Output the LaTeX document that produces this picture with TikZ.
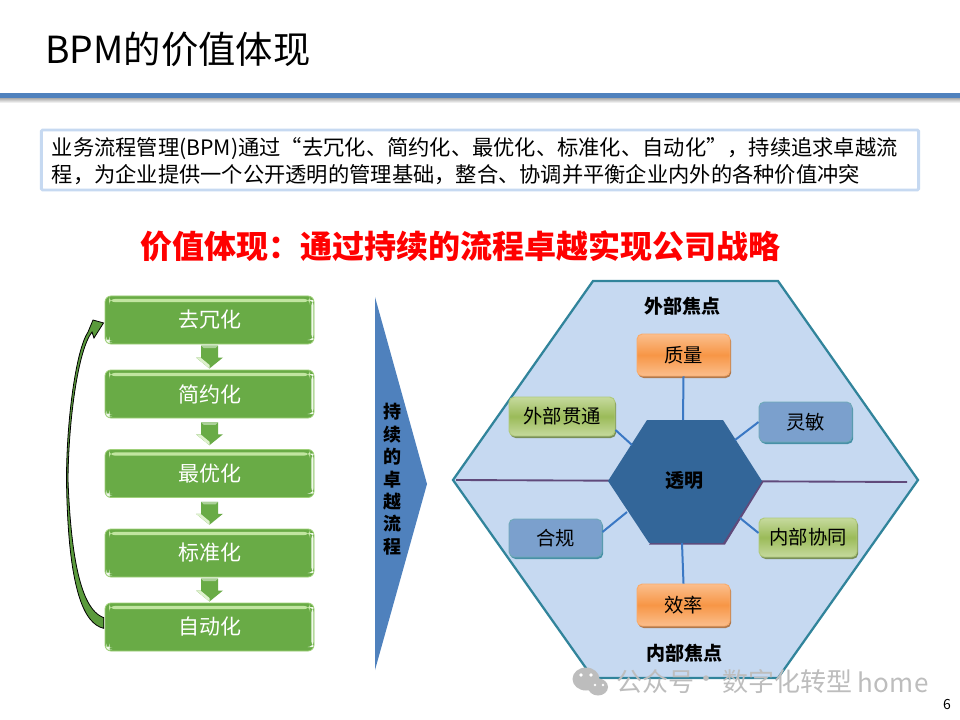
\documentclass[tikz,border=0pt]{standalone}
\usepackage{fontspec}
\setmainfont{Noto Sans CJK SC}
\newfontfamily\wmfont[LetterSpace=2]{Noto Sans CJK SC}
\usetikzlibrary{shadows,calc}
\definecolor{barblue}{HTML}{4F81BD}
\definecolor{paleblue}{HTML}{C6D9F1}
\definecolor{boxgreen}{HTML}{69AB46}
\definecolor{lightgreen}{HTML}{B6E08F}
\definecolor{tealedge}{HTML}{31849B}
\definecolor{hexblue}{HTML}{336699}
\definecolor{spoke}{HTML}{3A78C4}
\definecolor{plum}{HTML}{604A7B}
\definecolor{markgray}{HTML}{BDBDBD}
\definecolor{fillorange}{HTML}{F79646}
\definecolor{paleorange}{HTML}{FBBE8C}
\definecolor{gb}{HTML}{9BBB59}
\definecolor{palegb}{HTML}{C6DA9E}
\definecolor{bb}{HTML}{7BA0CD}
\definecolor{loopgreen}{HTML}{5A9A3C}
\tikzset{
  px/.style={x=0.75pt,y=-0.75pt},
  sz/.style={font=\fontsize{#1}{#1}\selectfont},
  gbox/.style={draw=lightgreen!70!boxgreen,line width=.6pt,fill=boxgreen,rounded corners=4.5pt,
    minimum width=156.75pt,minimum height=36pt,inner sep=0pt,text=white,sz=15.75,
    path picture={
      \fill[lightgreen!85!white] ([xshift=3pt,yshift=-2.2pt]path picture bounding box.north west) rectangle ([xshift=-3pt,yshift=-4.6pt]path picture bounding box.north east);
      \fill[white!80!lightgreen] ([xshift=-2pt,yshift=-3pt]path picture bounding box.north east) rectangle ([xshift=-.2pt,yshift=3pt]path picture bounding box.south east);
      \fill[white!80!lightgreen] ([xshift=1pt,yshift=1.2pt]path picture bounding box.south west) rectangle ([xshift=3.5pt,yshift=2.8pt]path picture bounding box.south west);
    }},
  cbox/.style={rounded corners=4pt,inner sep=0pt,sz=14.5,line width=.7pt,
    general shadow={shadow xshift=.9pt,shadow yshift=-1.5pt,fill=#1,opacity=.85}},
  obox/.style={cbox=fillorange!70!black,draw=fillorange!80!white,top color=paleorange,bottom color=paleorange,middle color=fillorange},
  lbox/.style={cbox=gb!70!black,draw=gb!80!white,top color=palegb,bottom color=palegb,middle color=gb},
  sbox/.style={cbox=tealedge,draw=tealedge!70!white,fill=bb},
  spokeline/.style={draw=spoke,line width=1.5pt},
  darr/.pic={
    \fill[boxgreen] (-8.5,-11.5) -- (8.5,-11.5) -- (8.5,.5) -- (13.5,.5) -- (0,11.5) -- (-13.5,.5) -- (-8.5,.5) -- cycle;
    \fill[boxgreen!55!white] (-8.5,-11.5) -- (8.5,-11.5) -- (6,-9) -- (-6,-9) -- cycle;
    \fill[lightgreen!45!white] (-13.5,.5) -- (-9,.5) -- (0,8) -- (0,11.5) -- cycle;
  }
}
\begin{document}
\begin{tikzpicture}[px]
\useasboundingbox (0,0) rectangle (960,720);
\fill[white] (0,0) rectangle (960,720);
% header
\shade[top color=black!40,bottom color=white] (0,97) rectangle (960,103);
\fill[barblue] (0,93) rectangle (960,98);
\node[anchor=west,inner sep=0pt,sz=28] (title) at (45,49) {BPM的价值体现};
% intro
\node[draw=paleblue,line width=2.2pt,rounded corners=1pt,minimum width=658pt,minimum height=45pt,inner sep=0pt] (intro) at (480,160) {};
\node[anchor=west,inner sep=0pt,sz=15.95] (introa) at (51.5,149) {业务流程管理(BPM)通过“去冗化、简约化、最优化、标准化、自动化”，持续追求卓越流};
\node[anchor=west,inner sep=0pt,sz=15.95] (introb) at (51.5,175) {程，为企业提供一个公开透明的管理基础，整合、协调并平衡企业内外的各种价值冲突};
\node[text=red,inner sep=0pt,sz=24] (head) at (460,246) {\bfseries 价值体现：通过持续的流程卓越实现公司战略};
% left column
\node[gbox] (s1) at (209.5,320) {去冗化};
\node[gbox] (s2) at (209.5,394) {简约化};
\node[gbox] (s3) at (209.5,473.5) {最优化};
\node[gbox] (s4) at (209.5,553) {标准化};
\node[gbox] (s5) at (209.5,627) {自动化};
\pic at ($(s1.south)!.5!(s2.north)$) {darr};
\pic at ($(s2.south)!.5!(s3.north)$) {darr};
\pic at ($(s3.south)!.5!(s4.north)$) {darr};
\pic at ($(s4.south)!.5!(s5.north)$) {darr};
% loop arrow
\coordinate (loopa) at ([xshift=-.6pt,yshift=7pt]s5.west);
\coordinate (loopb) at ([xshift=-.6pt,yshift=-1pt]s5.west);
\coordinate (looptip) at ([xshift=-.8pt,yshift=-2.2pt]s1.west);
\draw[black,line width=.6pt,fill=loopgreen,line join=miter] (loopb) .. controls (84,624) and (68,590) .. (66.5,480)
  .. controls (66.5,420) and (76,350) .. (88,332) -- (93,320) -- (looptip) -- (94,338) -- (92,332)
  .. controls (78,350) and (68.5,420) .. (68,480) .. controls (72,585) and (88,612) .. (loopa) -- cycle;
% arrow block
\fill[barblue] (375,297) -- (427,484) -- (375,670) -- cycle;
\foreach \ch/\yy in {持/412,续/435,的/457,卓/480,越/502,流/524,程/547}
  \node[inner sep=0pt,sz=13.5] at (392,\yy) {\bfseries\ch};
% hexagons
\draw[draw=tealedge,line width=1.7pt,fill=paleblue,line join=miter] (593,281) -- (778,281) -- (918,480) -- (778,678) -- (593,678) -- (453,480) -- cycle;
\coordinate (axisl) at (456,480);
\coordinate (axisr) at (907,482);
\draw[plum,line width=1.4pt] (axisl) -- (axisr);
\fill[plum] (700,481) -- (764,481) -- (725,544.5) -- (649,544.5) -- cycle;
\fill[hexblue] (647,420) -- (723,420) -- (762,481) -- (723,543) -- (649,543) -- (608,481) -- cycle;
\node[inner sep=0pt,sz=14.25] (core) at (684,481) {\bfseries 透明};
\node[inner sep=0pt,sz=14.25] (ext) at (682,306) {\bfseries 外部焦点};
\node[inner sep=0pt,sz=14.25] (int) at (684,653) {\bfseries 内部焦点};
% satellite boxes
\node[obox,minimum width=69.75pt,minimum height=31.5pt] (q) at (683.5,355) {质量};
\node[lbox,minimum width=79.5pt,minimum height=29.25pt] (e) at (562,416.5) {外部贯通};
\node[sbox,minimum width=69.75pt,minimum height=30pt] (a) at (805.5,422) {灵敏};
\node[sbox,minimum width=69.75pt,minimum height=28.5pt] (c) at (555.5,538) {合规};
\node[lbox,minimum width=73.5pt,minimum height=29.25pt] (i) at (808,537.5) {内部协同};
\node[obox,minimum width=69.75pt,minimum height=31.5pt] (f) at (683.5,605) {效率};
% spokes
\coordinate (pq) at (683,420);
\coordinate (pe) at (632,445);
\coordinate (pa) at (735,440);
\coordinate (pc) at (627,512);
\coordinate (pi) at (740,518);
\coordinate (pf) at (682,543);
\draw[spokeline] (q.south) -- (pq);
\draw[spokeline] (e.east |- 0,430) -- (pe);
\draw[spokeline] (a.west) -- (pa);
\draw[spokeline] (c.east |- 0,532) -- (pc);
\draw[spokeline] (i.west |- 0,533) -- (pi);
\draw[spokeline] (f.north) -- (pf);
% watermark
\fill[markgray] (586,679) ellipse (13.5 and 11.5);
\fill[markgray] (598,687) ellipse (10 and 8.5);
\fill[white] (581,675) circle (1.8) (591,675) circle (1.8) (595,685) circle (1.3) (603,685) circle (1.3);
\node[anchor=west,inner sep=0pt,text=markgray,sz=19.5] (marka) at (616,682) {公众号};
\node[inner sep=0pt,text=markgray,sz=19.5] (markb) at (706,682) {·};
\node[anchor=west,inner sep=0pt,text=markgray,sz=19.5] (markc) at (722,682) {数字化转型};
\node[anchor=west,inner sep=0pt,text=markgray,sz=19.5] (markd) at (857,682) {\wmfont home};
\node[inner sep=0pt,sz=10.5] (page) at (947,705) {6};
\end{tikzpicture}
\end{document}
